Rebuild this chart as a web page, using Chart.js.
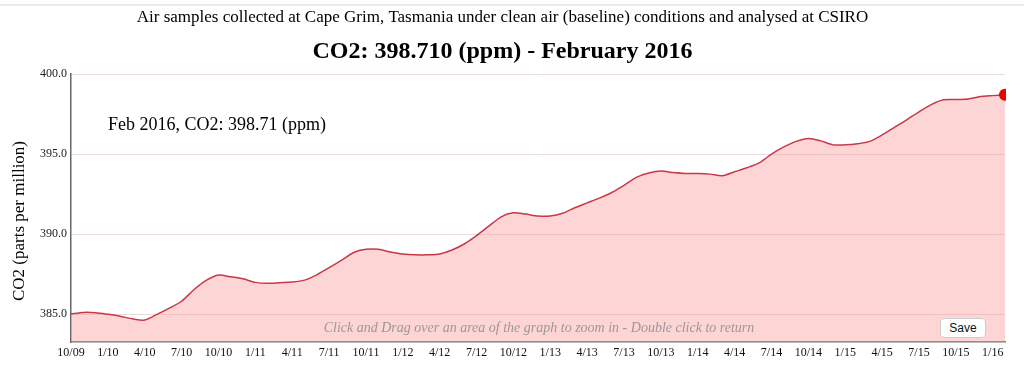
<!DOCTYPE html>
<html lang="en">
<head>
<meta charset="UTF-8">
<title>CO2 - Cape Grim</title>
<script src="https://cdn.jsdelivr.net/npm/chart.js"></script>
<style>
  body { margin: 0; background: #fff; }
  #wrap { position: relative; width: 1024px; height: 365px; }
  #topline { position: absolute; left: 0; top: 4px; width: 1024px; height: 2px; background: #ececec; }
  #save {
    position: absolute; left: 940px; top: 318px; width: 46px; height: 20px;
    background: #fff; border: 1px solid #ccc; border-radius: 4px;
    font: 12px "Liberation Sans", Arial, sans-serif; color: #111; padding: 0;
  }
</style>
</head>
<body>
<div id="wrap">
  <div id="topline"></div>
  <canvas id="co2Chart" width="1024" height="365"></canvas>
  <button id="save">Save</button>
</div>
<script>
// monthly baseline CO2, Oct 2009 -> Feb 2016
const months = [
  '10/09','11/09','12/09',
  '1/10','2/10','3/10','4/10','5/10','6/10','7/10','8/10','9/10','10/10','11/10','12/10',
  '1/11','2/11','3/11','4/11','5/11','6/11','7/11','8/11','9/11','10/11','11/11','12/11',
  '1/12','2/12','3/12','4/12','5/12','6/12','7/12','8/12','9/12','10/12','11/12','12/12',
  '1/13','2/13','3/13','4/13','5/13','6/13','7/13','8/13','9/13','10/13','11/13','12/13',
  '1/14','2/14','3/14','4/14','5/14','6/14','7/14','8/14','9/14','10/14','11/14','12/14',
  '1/15','2/15','3/15','4/15','5/15','6/15','7/15','8/15','9/15','10/15','11/15','12/15',
  '1/16','2/16'
];
const co2 = [
  385.00, 385.10, 385.08, 384.98, 384.86, 384.70, 384.62, 384.98, 385.37, 385.80,
  386.52, 387.10, 387.44, 387.33, 387.20, 386.98, 386.92, 386.96, 387.00, 387.12,
  387.45, 387.90, 388.35, 388.85, 389.05, 389.05, 388.88, 388.75, 388.70, 388.70,
  388.75, 389.00, 389.38, 389.90, 390.50, 391.08, 391.33, 391.25, 391.13, 391.13,
  391.30, 391.65, 391.95, 392.25, 392.60, 393.05, 393.55, 393.82, 393.95, 393.85,
  393.79, 393.79, 393.75, 393.65, 393.90, 394.15, 394.45, 395.00, 395.45, 395.80,
  395.98, 395.83, 395.58, 395.58, 395.65, 395.80, 396.20, 396.68, 397.15, 397.65,
  398.10, 398.40, 398.42, 398.45, 398.60, 398.66, 398.71
];
const quarterTicks = [
  '10/09','1/10','4/10','7/10','10/10','1/11','4/11','7/11','10/11','1/12','4/12','7/12',
  '10/12','1/13','4/13','7/13','10/13','1/14','4/14','7/14','10/14','1/15','4/15','7/15',
  '10/15','1/16'
];
const yTicks = [385, 390, 395, 400];
const latestNote = 'Feb 2016, CO2: 398.71 (ppm)';
const zoomHint = 'Click and Drag over an area of the graph to zoom in - Double click to return';
const yTitle = 'CO2 (parts per million)';

const serif = '"Liberation Serif", "Times New Roman", serif';

// textes dans et autour de la zone du graphe
const notes = {
  id: 'notes',
  afterDatasetsDraw(chart) {
    const { ctx, chartArea } = chart;
    ctx.save();
    ctx.fillStyle = '#000';
    ctx.font = '18px ' + serif;
    ctx.textBaseline = 'middle';
    ctx.textAlign = 'left';
    ctx.fillText(latestNote, chartArea.left + 37, 125);

    ctx.fillStyle = '#a09598';
    ctx.font = 'italic 14px ' + serif;
    ctx.textAlign = 'center';
    ctx.fillText(zoomHint, 539, 328);

    // titre de l'axe Y
    ctx.fillStyle = '#000';
    ctx.font = '17px ' + serif;
    ctx.translate(20, 221);
    ctx.rotate(-Math.PI / 2);
    ctx.fillText(yTitle, 0, 0);
    ctx.restore();
  }
};

const last = co2.length - 1;
new Chart(document.getElementById('co2Chart'), {
  type: 'line',
  data: {
    labels: months,
    datasets: [{
      data: co2,
      borderColor: '#c83848',
      borderWidth: 1.5,
      backgroundColor: 'rgba(250,150,150,0.4)',
      fill: 'start',
      tension: 0.25,
      clip: 1,
      pointRadius: c => c.dataIndex === last ? 6 : 0,
      pointBackgroundColor: '#ee0000',
      pointBorderColor: '#ee0000',
      pointBorderWidth: 0
    }]
  },
  options: {
    responsive: false,
    animation: false,
    devicePixelRatio: 1,
    layout: { padding: { left: 0, right: 19, top: 0, bottom: 0 } },
    plugins: {
      legend: { display: false },
      tooltip: { enabled: false },
      title: {
        display: true,
        text: 'Air samples collected at Cape Grim, Tasmania under clean air (baseline) conditions and analysed at CSIRO',
        color: '#000',
        font: { family: serif, size: 17, weight: 'normal' },
        padding: { top: 7, bottom: 7 }
      },
      subtitle: {
        display: true,
        text: 'CO2: 398.710 (ppm) - February 2016',
        color: '#000',
        font: { family: serif, size: 24, weight: 'bold' },
        padding: { top: 3, bottom: 8 }
      }
    },
    scales: {
      x: {
        grid: { display: false, drawTicks: false },
        border: { display: true, color: '#777', width: 1.5 },
        ticks: {
          autoSkip: false,
          maxRotation: 0,
          padding: 4,
          color: '#111',
          font: { family: serif, size: 12 },
          callback: (v, i) => quarterTicks.includes(months[i]) ? months[i] : ''
        },
        afterFit: s => { s.height = 23; }
      },
      y: {
        min: 383.25,
        max: 400,
        afterBuildTicks: s => { s.ticks = yTicks.map(v => ({ value: v })); },
        grid: { color: '#e8dcdc', drawTicks: false },
        border: { display: true, color: '#666', width: 1.5 },
        ticks: {
          padding: 4,
          color: '#222',
          font: { family: serif, size: 12 },
          callback: v => Number(v).toFixed(1)
        },
        afterFit: s => { s.width = 71; }
      }
    }
  },
  plugins: [notes]
});
</script>
</body>
</html>
